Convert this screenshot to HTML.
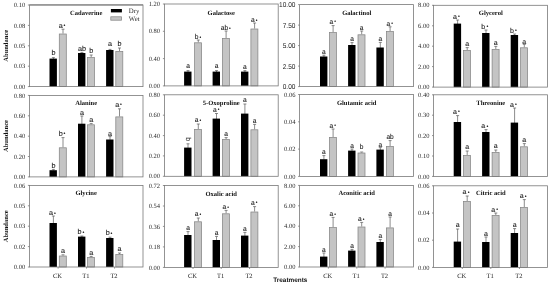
<!DOCTYPE html>
<html><head><meta charset="utf-8"><title>Metabolite abundance</title>
<style>
html,body{margin:0;padding:0;background:#fff}
svg{display:block}
text{text-rendering:geometricPrecision}
.f{fill:none;stroke:#787878;stroke-width:.8}
.tk{stroke:#777;stroke-width:.8}
.t{font-family:"Liberation Serif",serif;font-size:6.5px;fill:#2a2a2a;text-anchor:end}
.ts{font-family:"Liberation Sans",sans-serif;font-size:7px;fill:#222;text-anchor:end}
.h{font-family:"Liberation Serif",serif;font-weight:bold;font-size:6.55px;fill:#111;text-anchor:middle}
.x{font-family:"Liberation Serif",serif;font-size:6.5px;fill:#222;text-anchor:middle}
.l{font-family:"Liberation Sans",sans-serif;font-size:7px;fill:#222;stroke:#222;stroke-width:.1;text-anchor:middle}
.d{font-size:5.2px}
.k{fill:#000}
.g{fill:#c4c4c4;stroke:#868686;stroke-width:.75}
.e{stroke:#5a5a5a;stroke-width:.7;fill:none}
</style></head><body>
<svg width="550" height="285" viewBox="0 0 550 285">
<rect width="550" height="285" fill="#fff"/>
<g>
<path class="e" d="M53.4 59.0V57.6M51.9 57.6H54.9"/><rect class="k" x="49.5" y="58.6" width="7.4" height="28.0"/><text class="l" style="font-size:7.2px" transform="translate(53.4 55.4) scale(1.0 1)">b</text>
<path class="e" d="M63.0 33.6V29.2M61.5 29.2H64.5"/><rect class="g" x="59.3" y="34.0" width="7.0" height="52.6"/><text class="l" style="font-size:7.2px" transform="translate(62.0 28.2) scale(1.0 1)">a<tspan class="d" dx="0.9" dy="-0.75">•</tspan></text>
<path class="e" d="M81.9 53.4V52.4M80.4 52.4H83.4"/><rect class="k" x="78.0" y="53.0" width="7.4" height="33.6"/><text class="l" style="font-size:7.2px" transform="translate(81.9 51.0) scale(1.0 1)">ab</text>
<path class="e" d="M91.2 57.2V55.0M89.7 55.0H92.7"/><rect class="g" x="87.5" y="57.6" width="7.0" height="29.0"/><text class="l" style="font-size:7.2px" transform="translate(91.2 53.4) scale(1.0 1)">b</text>
<path class="e" d="M110.0 50.4V49.4M108.5 49.4H111.5"/><rect class="k" x="106.1" y="50.0" width="7.4" height="36.6"/><text class="l" style="font-size:7.2px" transform="translate(110.0 46.4) scale(1.0 1)">a</text>
<path class="e" d="M119.5 51.0V48.0M118.0 48.0H121.0"/><rect class="g" x="115.8" y="51.4" width="7.0" height="35.2"/><text class="l" style="font-size:7.2px" transform="translate(119.5 46.4) scale(1.0 1)">b</text>
<rect class="f" x="29.4" y="5.0" width="113.6" height="81.6"/><path class="tk" d="M27.9 5.0H29.4"/><text class="t" x="25.2" y="7.1">0.10</text><path class="tk" d="M27.9 25.4H29.4"/><text class="t" x="25.2" y="27.5">0.08</text><path class="tk" d="M27.9 45.8H29.4"/><text class="t" x="25.2" y="47.9">0.05</text><path class="tk" d="M27.9 66.2H29.4"/><text class="t" x="25.2" y="68.3">0.03</text><path class="tk" d="M27.9 86.6H29.4"/><text class="t" x="25.2" y="88.7">0.00</text>
<text class="h" x="86.2" y="14.9">Cadaverine</text>
</g>
<g>
<path class="e" d="M188.0 72.0V70.6M186.5 70.6H189.5"/><rect class="k" x="184.1" y="71.6" width="7.4" height="14.3"/><text class="l" style="font-size:7.0px" transform="translate(188.0 68.4) scale(0.95 1)">a</text>
<path class="e" d="M198.3 42.4V40.0M196.8 40.0H199.8"/><rect class="g" x="194.6" y="42.8" width="7.0" height="43.1"/><text class="l" style="font-size:7.0px" transform="translate(198.0 39.4) scale(0.95 1)">b<tspan class="d" dx="1.0" dy="-0.75">•</tspan></text>
<path class="e" d="M216.5 72.0V70.6M215.0 70.6H218.0"/><rect class="k" x="212.6" y="71.6" width="7.4" height="14.3"/><text class="l" style="font-size:7.0px" transform="translate(216.5 68.4) scale(0.95 1)">a</text>
<path class="e" d="M226.1 38.0V31.0M224.6 31.0H227.6"/><rect class="g" x="222.4" y="38.4" width="7.0" height="47.5"/><text class="l" style="font-size:7.0px" transform="translate(225.8 30.4) scale(0.95 1)">ab<tspan class="d" dx="1.0" dy="-0.75">•</tspan></text>
<path class="e" d="M244.9 72.0V70.6M243.4 70.6H246.4"/><rect class="k" x="241.0" y="71.6" width="7.4" height="14.3"/><text class="l" style="font-size:7.0px" transform="translate(244.9 69.0) scale(0.95 1)">a</text>
<path class="e" d="M254.6 28.6V23.0M253.1 23.0H256.1"/><rect class="g" x="250.9" y="29.0" width="7.0" height="56.9"/><text class="l" style="font-size:7.0px" transform="translate(254.3 22.4) scale(0.95 1)">a<tspan class="d" dx="1.0" dy="-0.75">•</tspan></text>
<rect class="f" x="164.4" y="4.0" width="113.8" height="81.9"/><path class="tk" d="M162.9 4.0H164.4"/><text class="t" x="160.0" y="6.1">1.20</text><path class="tk" d="M162.9 31.3H164.4"/><text class="t" x="160.0" y="33.4">0.80</text><path class="tk" d="M162.9 58.6H164.4"/><text class="t" x="160.0" y="60.7">0.40</text><path class="tk" d="M162.9 85.9H164.4"/><text class="t" x="160.0" y="88.0">0.00</text>
<text class="h" x="221.2" y="14.5">Galactose</text>
</g>
<g>
<path class="e" d="M323.9 56.9V55.2M322.4 55.2H325.4"/><rect class="k" x="320.0" y="56.5" width="7.4" height="30.1"/><text class="l" style="font-size:7.0px" transform="translate(323.9 53.6) scale(0.94 1)">a</text>
<path class="e" d="M333.1 32.2V25.6M331.6 25.6H334.6"/><rect class="g" x="329.4" y="32.6" width="7.0" height="54.0"/><text class="l" style="font-size:7.0px" transform="translate(332.7 24.2) scale(0.94 1)">a<tspan class="d" dx="1.2" dy="-0.75">•</tspan></text>
<path class="e" d="M352.0 45.4V42.6M350.5 42.6H353.5"/><rect class="k" x="348.1" y="45.0" width="7.4" height="41.6"/><text class="l" style="font-size:7.0px" transform="translate(352.0 41.4) scale(0.94 1)">a</text>
<path class="e" d="M361.7 34.4V31.0M360.2 31.0H363.2"/><rect class="g" x="358.0" y="34.8" width="7.0" height="51.8"/><text class="l" style="font-size:7.0px" transform="translate(361.7 30.0) scale(0.94 1)">a</text>
<path class="e" d="M380.3 47.9V42.4M378.8 42.4H381.8"/><rect class="k" x="376.4" y="47.5" width="7.4" height="39.1"/><text class="l" style="font-size:7.0px" transform="translate(380.3 40.6) scale(0.94 1)">a</text>
<path class="e" d="M390.1 31.1V26.8M388.6 26.8H391.6"/><rect class="g" x="386.4" y="31.5" width="7.0" height="55.1"/><text class="l" style="font-size:7.0px" transform="translate(389.7 25.6) scale(0.94 1)">a<tspan class="d" dx="1.2" dy="-0.75">•</tspan></text>
<rect class="f" x="299.6" y="4.6" width="113.9" height="82.0"/><path class="tk" d="M298.1 4.6H299.6"/><text class="ts" transform="translate(295.4 7.1) scale(.93 1)">10.00</text><path class="tk" d="M298.1 25.1H299.6"/><text class="ts" transform="translate(295.4 27.6) scale(.93 1)">7.50</text><path class="tk" d="M298.1 45.6H299.6"/><text class="ts" transform="translate(295.4 48.1) scale(.93 1)">5.00</text><path class="tk" d="M298.1 66.1H299.6"/><text class="ts" transform="translate(295.4 68.6) scale(.93 1)">2.50</text><path class="tk" d="M298.1 86.6H299.6"/><text class="ts" transform="translate(295.4 89.1) scale(.93 1)">0.00</text>
<text class="h" x="356.7" y="14.5">Galactinol</text>
</g>
<g>
<path class="e" d="M457.6 24.0V20.0M456.1 20.0H459.1"/><rect class="k" x="453.7" y="23.6" width="7.4" height="63.5"/><text class="l" style="font-size:7.0px" transform="translate(456.4 19.0) scale(1.0 1)">a<tspan class="d" dx="1.2" dy="-0.75">•</tspan></text>
<path class="e" d="M467.2 50.0V47.6M465.7 47.6H468.7"/><rect class="g" x="463.5" y="50.4" width="7.0" height="36.7"/><text class="l" style="font-size:7.0px" transform="translate(467.2 46.0) scale(1.0 1)">a</text>
<path class="e" d="M486.0 33.4V30.0M484.5 30.0H487.5"/><rect class="k" x="482.1" y="33.0" width="7.4" height="54.1"/><text class="l" style="font-size:7.0px" transform="translate(484.8 29.0) scale(1.0 1)">b<tspan class="d" dx="1.2" dy="-0.75">•</tspan></text>
<path class="e" d="M495.8 49.0V46.4M494.3 46.4H497.3"/><rect class="g" x="492.1" y="49.4" width="7.0" height="37.7"/><text class="l" style="font-size:7.0px" transform="translate(495.8 45.4) scale(1.0 1)">a</text>
<path class="e" d="M514.6 35.4V34.0M513.1 34.0H516.1"/><rect class="k" x="510.7" y="35.0" width="7.4" height="52.1"/><text class="l" style="font-size:7.0px" transform="translate(513.4 32.8) scale(1.0 1)">b<tspan class="d" dx="1.2" dy="-0.75">•</tspan></text>
<path class="e" d="M524.3 47.4V44.4M522.8 44.4H525.8"/><rect class="g" x="520.6" y="47.8" width="7.0" height="39.3"/><text class="l" style="font-size:7.0px" transform="translate(524.3 43.8) scale(1.0 1)">a</text>
<rect class="f" x="433.5" y="5.3" width="113.9" height="81.8"/><path class="tk" d="M432.0 5.3H433.5"/><text class="t" x="429.4" y="7.4">8.00</text><path class="tk" d="M432.0 25.8H433.5"/><text class="t" x="429.4" y="27.9">6.00</text><path class="tk" d="M432.0 46.2H433.5"/><text class="t" x="429.4" y="48.3">4.00</text><path class="tk" d="M432.0 66.6H433.5"/><text class="t" x="429.4" y="68.7">2.00</text><path class="tk" d="M432.0 87.1H433.5"/><text class="t" x="429.4" y="89.2">0.00</text>
<text class="h" x="490.8" y="15.3">Glycerol</text>
</g>
<g>
<path class="e" d="M53.4 170.6V169.4M51.9 169.4H54.9"/><rect class="k" x="49.5" y="170.2" width="7.4" height="6.7"/><text class="l" style="font-size:7.2px" transform="translate(53.4 167.6) scale(1.0 1)">b</text>
<path class="e" d="M63.0 147.4V137.6M61.5 137.6H64.5"/><rect class="g" x="59.3" y="147.8" width="7.0" height="29.1"/><text class="l" style="font-size:7.2px" transform="translate(62.0 135.8) scale(1.0 1)">b<tspan class="d" dx="0.9" dy="-0.75">•</tspan></text>
<path class="e" d="M81.9 124.1V116.0M80.4 116.0H83.4"/><rect class="k" x="78.0" y="123.7" width="7.4" height="53.2"/><text class="l" style="font-size:7.2px" transform="translate(81.9 114.8) scale(1.0 1)">a</text>
<path class="e" d="M91.2 124.4V123.6M89.7 123.6H92.7"/><rect class="g" x="87.5" y="124.8" width="7.0" height="52.1"/><text class="l" style="font-size:7.2px" transform="translate(91.2 121.8) scale(1.0 1)">a</text>
<path class="e" d="M110.0 139.9V136.6M108.5 136.6H111.5"/><rect class="k" x="106.1" y="139.5" width="7.4" height="37.4"/><text class="l" style="font-size:7.2px" transform="translate(110.0 135.9) scale(1.0 1)">a</text>
<path class="e" d="M119.5 116.5V108.8M118.0 108.8H121.0"/><rect class="g" x="115.8" y="116.9" width="7.0" height="60.0"/><text class="l" style="font-size:7.2px" transform="translate(118.5 107.2) scale(1.0 1)">a<tspan class="d" dx="0.9" dy="-0.75">•</tspan></text>
<rect class="f" x="29.4" y="95.4" width="113.6" height="81.5"/><path class="tk" d="M27.9 95.4H29.4"/><text class="t" x="25.2" y="97.5">0.80</text><path class="tk" d="M27.9 115.8H29.4"/><text class="t" x="25.2" y="117.9">0.60</text><path class="tk" d="M27.9 136.2H29.4"/><text class="t" x="25.2" y="138.2">0.40</text><path class="tk" d="M27.9 156.5H29.4"/><text class="t" x="25.2" y="158.6">0.20</text><path class="tk" d="M27.9 176.9H29.4"/><text class="t" x="25.2" y="179.0">0.00</text>
<text class="h" x="86.2" y="105.3">Alanine</text>
</g>
<g>
<path class="e" d="M188.0 148.0V143.8M186.5 143.8H189.5"/><rect class="k" x="184.1" y="147.6" width="7.4" height="28.7"/><text class="l" style="font-size:7.0px" transform="translate(186.4 139.2) rotate(90)">b</text>
<path class="e" d="M198.3 129.0V124.0M196.8 124.0H199.8"/><rect class="g" x="194.6" y="129.4" width="7.0" height="46.9"/><text class="l" style="font-size:7.0px" transform="translate(198.0 122.4) scale(0.95 1)">a<tspan class="d" dx="1.0" dy="-0.75">•</tspan></text>
<path class="e" d="M216.5 119.0V113.5M215.0 113.5H218.0"/><rect class="k" x="212.6" y="118.6" width="7.4" height="57.7"/><text class="l" style="font-size:7.0px" transform="translate(216.2 111.9) scale(0.95 1)">a<tspan class="d" dx="1.0" dy="-0.75">•</tspan></text>
<path class="e" d="M226.1 139.0V137.6M224.6 137.6H227.6"/><rect class="g" x="222.4" y="139.4" width="7.0" height="36.9"/><text class="l" style="font-size:7.0px" transform="translate(226.1 135.8) scale(0.95 1)">a</text>
<path class="e" d="M244.9 114.0V104.0M243.4 104.0H246.4"/><rect class="k" x="241.0" y="113.6" width="7.4" height="62.7"/><text class="l" style="font-size:7.0px" transform="translate(244.9 102.4) scale(0.95 1)">a</text>
<path class="e" d="M254.6 129.4V124.4M253.1 124.4H256.1"/><rect class="g" x="250.9" y="129.8" width="7.0" height="46.5"/><text class="l" style="font-size:7.0px" transform="translate(254.6 123.4) scale(0.95 1)">a</text>
<rect class="f" x="164.4" y="94.8" width="113.8" height="81.5"/><path class="tk" d="M162.9 94.8H164.4"/><text class="t" x="160.0" y="96.9">0.80</text><path class="tk" d="M162.9 115.2H164.4"/><text class="t" x="160.0" y="117.3">0.60</text><path class="tk" d="M162.9 135.6H164.4"/><text class="t" x="160.0" y="137.7">0.40</text><path class="tk" d="M162.9 155.9H164.4"/><text class="t" x="160.0" y="158.0">0.20</text><path class="tk" d="M162.9 176.3H164.4"/><text class="t" x="160.0" y="178.4">0.00</text>
<text class="h" x="221.2" y="104.9">5-Oxoproline</text>
</g>
<g>
<path class="e" d="M323.9 159.6V155.6M322.4 155.6H325.4"/><rect class="k" x="320.0" y="159.2" width="7.4" height="17.2"/><text class="l" style="font-size:7.0px" transform="translate(323.9 154.4) scale(0.94 1)">a</text>
<path class="e" d="M333.1 137.0V129.0M331.6 129.0H334.6"/><rect class="g" x="329.4" y="137.4" width="7.0" height="39.0"/><text class="l" style="font-size:7.0px" transform="translate(332.7 127.8) scale(0.94 1)">a<tspan class="d" dx="1.2" dy="-0.75">•</tspan></text>
<path class="e" d="M352.0 151.0V149.0M350.5 149.0H353.5"/><rect class="k" x="348.1" y="150.6" width="7.4" height="25.8"/><text class="l" style="font-size:7.0px" transform="translate(352.0 147.8) scale(0.94 1)">a</text>
<path class="e" d="M361.7 152.6V152.0M360.2 152.0H363.2"/><rect class="g" x="358.0" y="153.0" width="7.0" height="23.4"/><text class="l" style="font-size:7.0px" transform="translate(361.7 149.4) scale(0.94 1)">b</text>
<path class="e" d="M380.3 150.0V147.6M378.8 147.6H381.8"/><rect class="k" x="376.4" y="149.6" width="7.4" height="26.8"/><text class="l" style="font-size:7.0px" transform="translate(380.3 147.0) scale(0.94 1)">a</text>
<path class="e" d="M390.1 146.0V140.6M388.6 140.6H391.6"/><rect class="g" x="386.4" y="146.4" width="7.0" height="30.0"/><text class="l" style="font-size:7.0px" transform="translate(390.1 139.0) scale(0.94 1)">ab</text>
<rect class="f" x="299.6" y="94.5" width="113.9" height="81.9"/><path class="tk" d="M298.1 94.5H299.6"/><text class="t" x="295.4" y="96.6">0.06</text><path class="tk" d="M298.1 121.8H299.6"/><text class="t" x="295.4" y="123.9">0.04</text><path class="tk" d="M298.1 149.1H299.6"/><text class="t" x="295.4" y="151.2">0.02</text><path class="tk" d="M298.1 176.4H299.6"/><text class="t" x="295.4" y="178.5">0.00</text>
<text class="h" x="356.7" y="104.5">Glutamic acid</text>
</g>
<g>
<path class="e" d="M457.6 122.4V115.6M456.1 115.6H459.1"/><rect class="k" x="453.7" y="122.0" width="7.4" height="54.4"/><text class="l" style="font-size:7.0px" transform="translate(456.4 113.8) scale(1.0 1)">a<tspan class="d" dx="1.2" dy="-0.75">•</tspan></text>
<path class="e" d="M467.2 155.0V151.0M465.7 151.0H468.7"/><rect class="g" x="463.5" y="155.4" width="7.0" height="21.0"/><text class="l" style="font-size:7.0px" transform="translate(467.2 149.4) scale(1.0 1)">a</text>
<path class="e" d="M486.0 132.4V129.6M484.5 129.6H487.5"/><rect class="k" x="482.1" y="132.0" width="7.4" height="44.4"/><text class="l" style="font-size:7.0px" transform="translate(484.8 128.4) scale(1.0 1)">a<tspan class="d" dx="1.2" dy="-0.75">•</tspan></text>
<path class="e" d="M495.8 152.0V150.0M494.3 150.0H497.3"/><rect class="g" x="492.1" y="152.4" width="7.0" height="24.0"/><text class="l" style="font-size:7.0px" transform="translate(495.8 148.4) scale(1.0 1)">a</text>
<path class="e" d="M514.6 123.0V108.0M513.1 108.0H516.1"/><rect class="k" x="510.7" y="122.6" width="7.4" height="53.8"/><text class="l" style="font-size:7.0px" transform="translate(513.4 106.8) scale(1.0 1)">a<tspan class="d" dx="1.2" dy="-0.75">•</tspan></text>
<path class="e" d="M524.3 146.4V143.6M522.8 143.6H525.8"/><rect class="g" x="520.6" y="146.8" width="7.0" height="29.6"/><text class="l" style="font-size:7.0px" transform="translate(524.3 142.4) scale(1.0 1)">a</text>
<rect class="f" x="433.5" y="94.8" width="113.9" height="81.6"/><path class="tk" d="M432.0 94.8H433.5"/><text class="t" x="429.4" y="96.9">0.40</text><path class="tk" d="M432.0 115.2H433.5"/><text class="t" x="429.4" y="117.3">0.30</text><path class="tk" d="M432.0 135.6H433.5"/><text class="t" x="429.4" y="137.7">0.20</text><path class="tk" d="M432.0 156.0H433.5"/><text class="t" x="429.4" y="158.1">0.10</text><path class="tk" d="M432.0 176.4H433.5"/><text class="t" x="429.4" y="178.5">0.00</text>
<text class="h" x="490.8" y="104.5">Threonine</text>
</g>
<g>
<path class="e" d="M53.4 223.4V216.0M51.9 216.0H54.9"/><rect class="k" x="49.5" y="223.0" width="7.4" height="44.0"/><text class="l" style="font-size:7.2px" transform="translate(52.4 215.4) scale(1.0 1)">a<tspan class="d" dx="0.9" dy="-0.75">•</tspan></text>
<path class="e" d="M63.0 255.6V254.8M61.5 254.8H64.5"/><rect class="g" x="59.3" y="256.0" width="7.0" height="11.0"/><text class="l" style="font-size:7.2px" transform="translate(63.0 252.6) scale(1.0 1)">a</text>
<path class="e" d="M81.9 237.0V236.0M80.4 236.0H83.4"/><rect class="k" x="78.0" y="236.6" width="7.4" height="30.4"/><text class="l" style="font-size:7.2px" transform="translate(80.9 234.4) scale(1.0 1)">b<tspan class="d" dx="0.9" dy="-0.75">•</tspan></text>
<path class="e" d="M91.2 257.0V256.4M89.7 256.4H92.7"/><rect class="g" x="87.5" y="257.4" width="7.0" height="9.6"/><text class="l" style="font-size:7.2px" transform="translate(91.2 255.4) scale(1.0 1)">a</text>
<path class="e" d="M110.0 238.4V237.2M108.5 237.2H111.5"/><rect class="k" x="106.1" y="238.0" width="7.4" height="29.0"/><text class="l" style="font-size:7.2px" transform="translate(109.0 235.4) scale(1.0 1)">b<tspan class="d" dx="0.9" dy="-0.75">•</tspan></text>
<path class="e" d="M119.5 254.0V253.0M118.0 253.0H121.0"/><rect class="g" x="115.8" y="254.4" width="7.0" height="12.6"/><text class="l" style="font-size:7.2px" transform="translate(119.5 251.4) scale(1.0 1)">a</text>
<rect class="f" x="29.4" y="185.4" width="113.6" height="81.6"/><path class="tk" d="M27.9 185.4H29.4"/><text class="t" x="25.2" y="187.5">0.06</text><path class="tk" d="M27.9 205.8H29.4"/><text class="t" x="25.2" y="207.9">0.05</text><path class="tk" d="M27.9 226.2H29.4"/><text class="t" x="25.2" y="228.3">0.03</text><path class="tk" d="M27.9 246.6H29.4"/><text class="t" x="25.2" y="248.7">0.02</text><path class="tk" d="M27.9 267.0H29.4"/><text class="t" x="25.2" y="269.1">0.00</text>
<text class="h" x="86.2" y="194.5">Glycine</text>
<path class="tk" d="M58.1 267.0v1.6"/><text class="x" x="57.5" y="277.9">CK</text><path class="tk" d="M86.5 267.0v1.6"/><text class="x" x="85.9" y="277.9">T1</text><path class="tk" d="M114.6 267.0v1.6"/><text class="x" x="114.0" y="277.9">T2</text>
</g>
<g>
<path class="e" d="M188.0 235.4V231.6M186.5 231.6H189.5"/><rect class="k" x="184.1" y="235.0" width="7.4" height="32.4"/><text class="l" style="font-size:7.0px" transform="translate(188.0 230.4) scale(0.95 1)">a</text>
<path class="e" d="M198.3 221.4V218.0M196.8 218.0H199.8"/><rect class="g" x="194.6" y="221.8" width="7.0" height="45.6"/><text class="l" style="font-size:7.0px" transform="translate(198.0 216.4) scale(0.95 1)">a<tspan class="d" dx="1.0" dy="-0.75">•</tspan></text>
<path class="e" d="M216.5 240.4V236.4M215.0 236.4H218.0"/><rect class="k" x="212.6" y="240.0" width="7.4" height="27.4"/><text class="l" style="font-size:7.0px" transform="translate(216.5 235.0) scale(0.95 1)">a</text>
<path class="e" d="M226.1 213.4V210.4M224.6 210.4H227.6"/><rect class="g" x="222.4" y="213.8" width="7.0" height="53.6"/><text class="l" style="font-size:7.0px" transform="translate(225.8 209.4) scale(0.95 1)">a<tspan class="d" dx="1.0" dy="-0.75">•</tspan></text>
<path class="e" d="M244.9 236.0V232.4M243.4 232.4H246.4"/><rect class="k" x="241.0" y="235.6" width="7.4" height="31.8"/><text class="l" style="font-size:7.0px" transform="translate(244.9 231.4) scale(0.95 1)">a</text>
<path class="e" d="M254.6 211.6V206.6M253.1 206.6H256.1"/><rect class="g" x="250.9" y="212.0" width="7.0" height="55.4"/><text class="l" style="font-size:7.0px" transform="translate(254.3 205.0) scale(0.95 1)">a<tspan class="d" dx="1.0" dy="-0.75">•</tspan></text>
<rect class="f" x="164.4" y="185.5" width="113.8" height="81.9"/><path class="tk" d="M162.9 185.5H164.4"/><text class="t" x="160.0" y="187.6">0.72</text><path class="tk" d="M162.9 206.0H164.4"/><text class="t" x="160.0" y="208.1">0.54</text><path class="tk" d="M162.9 226.4H164.4"/><text class="t" x="160.0" y="228.5">0.36</text><path class="tk" d="M162.9 246.9H164.4"/><text class="t" x="160.0" y="249.0">0.18</text><path class="tk" d="M162.9 267.4H164.4"/><text class="t" x="160.0" y="269.5">0.00</text>
<text class="h" x="221.2" y="195.9">Oxalic acid</text>
<path class="tk" d="M193.0 267.4v1.6"/><text class="x" x="192.4" y="277.9">CK</text><path class="tk" d="M221.2 267.4v1.6"/><text class="x" x="220.6" y="277.9">T1</text><path class="tk" d="M249.6 267.4v1.6"/><text class="x" x="249.0" y="277.9">T2</text>
</g>
<g>
<path class="e" d="M323.9 257.0V253.0M322.4 253.0H325.4"/><rect class="k" x="320.0" y="256.6" width="7.4" height="10.4"/><text class="l" style="font-size:7.0px" transform="translate(323.9 251.8) scale(0.94 1)">a</text>
<path class="e" d="M333.1 227.2V217.4M331.6 217.4H334.6"/><rect class="g" x="329.4" y="227.6" width="7.0" height="39.4"/><text class="l" style="font-size:7.0px" transform="translate(332.7 216.4) scale(0.94 1)">a<tspan class="d" dx="1.2" dy="-0.75">•</tspan></text>
<path class="e" d="M352.0 251.0V249.4M350.5 249.4H353.5"/><rect class="k" x="348.1" y="250.6" width="7.4" height="16.4"/><text class="l" style="font-size:7.0px" transform="translate(352.0 248.4) scale(0.94 1)">a</text>
<path class="e" d="M361.7 226.6V222.4M360.2 222.4H363.2"/><rect class="g" x="358.0" y="227.0" width="7.0" height="40.0"/><text class="l" style="font-size:7.0px" transform="translate(361.3 221.4) scale(0.94 1)">a<tspan class="d" dx="1.2" dy="-0.75">•</tspan></text>
<path class="e" d="M380.3 242.4V239.6M378.8 239.6H381.8"/><rect class="k" x="376.4" y="242.0" width="7.4" height="25.0"/><text class="l" style="font-size:7.0px" transform="translate(380.3 238.4) scale(0.94 1)">a</text>
<path class="e" d="M390.1 227.5V217.0M388.6 217.0H391.6"/><rect class="g" x="386.4" y="227.9" width="7.0" height="39.1"/><text class="l" style="font-size:7.0px" transform="translate(390.1 216.0) scale(0.94 1)">a</text>
<rect class="f" x="299.6" y="185.4" width="113.9" height="81.6"/><path class="tk" d="M298.1 185.4H299.6"/><text class="t" x="295.4" y="187.5">8.00</text><path class="tk" d="M298.1 205.8H299.6"/><text class="t" x="295.4" y="207.9">6.00</text><path class="tk" d="M298.1 226.2H299.6"/><text class="t" x="295.4" y="228.3">4.00</text><path class="tk" d="M298.1 246.6H299.6"/><text class="t" x="295.4" y="248.7">2.00</text><path class="tk" d="M298.1 267.0H299.6"/><text class="t" x="295.4" y="269.1">0.00</text>
<text class="h" x="356.7" y="194.9">Aconitic acid</text>
<path class="tk" d="M328.4 267.0v1.6"/><text class="x" x="327.8" y="277.9">CK</text><path class="tk" d="M356.8 267.0v1.6"/><text class="x" x="356.1" y="277.9">T1</text><path class="tk" d="M385.1 267.0v1.6"/><text class="x" x="384.5" y="277.9">T2</text>
</g>
<g>
<path class="e" d="M457.6 242.0V229.0M456.1 229.0H459.1"/><rect class="k" x="453.7" y="241.6" width="7.4" height="25.8"/><text class="l" style="font-size:7.0px" transform="translate(457.6 227.4) scale(1.0 1)">a</text>
<path class="e" d="M467.2 201.0V196.0M465.7 196.0H468.7"/><rect class="g" x="463.5" y="201.4" width="7.0" height="66.0"/><text class="l" style="font-size:7.0px" transform="translate(466.0 194.4) scale(1.0 1)">a<tspan class="d" dx="1.2" dy="-0.75">•</tspan></text>
<path class="e" d="M486.0 242.4V237.0M484.5 237.0H487.5"/><rect class="k" x="482.1" y="242.0" width="7.4" height="25.4"/><text class="l" style="font-size:7.0px" transform="translate(486.0 235.8) scale(1.0 1)">a</text>
<path class="e" d="M495.8 215.0V213.0M494.3 213.0H497.3"/><rect class="g" x="492.1" y="215.4" width="7.0" height="52.0"/><text class="l" style="font-size:7.0px" transform="translate(494.6 211.8) scale(1.0 1)">a<tspan class="d" dx="1.2" dy="-0.75">•</tspan></text>
<path class="e" d="M514.6 233.4V228.6M513.1 228.6H516.1"/><rect class="k" x="510.7" y="233.0" width="7.4" height="34.4"/><text class="l" style="font-size:7.0px" transform="translate(514.6 226.8) scale(1.0 1)">a</text>
<path class="e" d="M524.3 207.0V199.6M522.8 199.6H525.8"/><rect class="g" x="520.6" y="207.4" width="7.0" height="60.0"/><text class="l" style="font-size:7.0px" transform="translate(523.1 198.4) scale(1.0 1)">a<tspan class="d" dx="1.2" dy="-0.75">•</tspan></text>
<rect class="f" x="433.5" y="185.8" width="113.9" height="81.6"/><path class="tk" d="M432.0 185.8H433.5"/><text class="t" x="429.4" y="187.9">0.06</text><path class="tk" d="M432.0 213.0H433.5"/><text class="t" x="429.4" y="215.1">0.04</text><path class="tk" d="M432.0 240.2H433.5"/><text class="t" x="429.4" y="242.3">0.02</text><path class="tk" d="M432.0 267.4H433.5"/><text class="t" x="429.4" y="269.5">0.00</text>
<text class="h" x="490.8" y="195.3">Citric acid</text>
<path class="tk" d="M462.3 267.4v1.6"/><text class="x" x="461.7" y="277.9">CK</text><path class="tk" d="M490.8 267.4v1.6"/><text class="x" x="490.2" y="277.9">T1</text><path class="tk" d="M519.4 267.4v1.6"/><text class="x" x="518.8" y="277.9">T2</text>
</g>
<text class="h" transform="translate(7.7 45.8) rotate(-90)">Abundance</text>
<text class="h" transform="translate(7.7 136.0) rotate(-90)">Abundance</text>
<text class="h" transform="translate(7.7 226.3) rotate(-90)">Abundance</text>
<rect class="k" x="110.9" y="9.0" width="11" height="3.4"/>
<path d="M29.4 4.8H143" stroke="#8a8a8a" stroke-width="1.2"/>
<rect class="g" x="110.8" y="16.8" width="10.8" height="3.4"/>
<text class="t" style="text-anchor:start;font-size:6.8px" x="128.8" y="12.9">Dry</text>
<text class="t" style="text-anchor:start;font-size:6.8px" x="128.8" y="20.7">Wet</text>
<text x="290.3" y="282.2" style="font-family:'Liberation Sans',sans-serif;font-weight:bold;font-size:6.4px;fill:#111;text-anchor:middle">Treatments</text>
</svg>
</body></html>
